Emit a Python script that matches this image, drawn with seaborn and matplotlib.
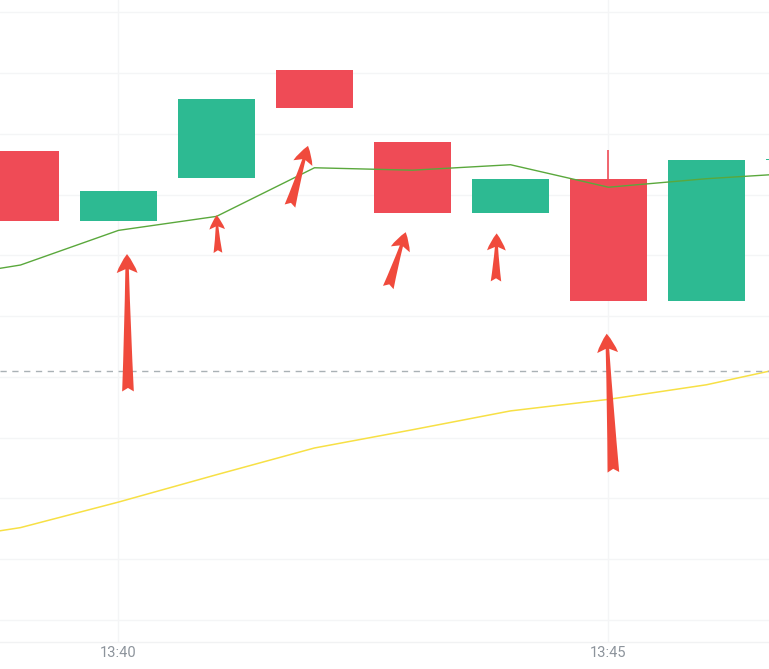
import numpy as np
import pandas as pd
import matplotlib.pyplot as plt
import seaborn as sns

# minute bars (13:38 candle is off screen, only the averages reach it)
times = ["13:38", "13:39", "13:40", "13:41", "13:42", "13:43", "13:44", "13:45", "13:46", "13:47"]
opens = [np.nan, 1077.2, 1065.7, 1072.7, 1090.5, 1078.6, 1066.9, 1072.6, 1052.5, 1075.6]
closes = [np.nan, 1065.7, 1070.6, 1085.7, 1084.3, 1066.9, 1072.6, 1052.5, 1075.6, 1075.6]
highs = [np.nan, 1077.2, 1070.6, 1085.7, 1090.5, 1078.6, 1072.6, 1077.3, 1075.6, 1075.6]
lows = [np.nan, 1065.7, 1065.7, 1072.7, 1084.3, 1066.9, 1066.9, 1052.5, 1052.5, 1075.6]
ma_fast = [1055.8, 1058.4, 1064.1, 1066.4, 1074.4, 1074.0, 1074.9, 1071.2, 1072.6, 1073.6]
ma_slow = [1012.7, 1015.2, 1019.4, 1023.9, 1028.3, 1031.3, 1034.4, 1036.3, 1038.7, 1042.2]
ref_level = 1041.0
tick_labels = ["13:40", "13:45"]

# hand drawn arrows (tip / tail in data units)
arrow_tip_x = [2.087, 3.002, 3.934, 4.931, 5.859, 6.982]
arrow_tip_y = [1060.2, 1066.6, 1078.0, 1063.8, 1063.6, 1047.1]
arrow_tail_x = [2.097, 3.015, 3.75, 4.753, 5.852, 7.05]
arrow_tail_y = [1037.6, 1060.4, 1068.1, 1054.7, 1055.7, 1024.3]
arrow_size = [1.0, 0.75, 0.95, 0.95, 0.9, 1.0]

UP = "#2dba92"
DOWN = "#ef4b56"

sns.set_style("white")
plt.rcParams["font.family"] = ["Roboto", "DejaVu Sans"]

df = pd.DataFrame({"time": times, "open": opens, "close": closes,
                   "high": highs, "low": lows, "ma_fast": ma_fast, "ma_slow": ma_slow})
df["x"] = np.arange(len(df))
bars = df.dropna(subset=["open"])
colors = [UP if c >= o else DOWN for o, c in zip(bars["open"], bars["close"])]
body_low = np.minimum(bars["open"], bars["close"])
body_h = np.maximum(np.abs(bars["close"] - bars["open"]), 0.3)

fig = plt.figure(figsize=(7.69, 6.69), dpi=100)
ax = fig.add_axes([0, 0.0408, 1, 0.9592])

ax.vlines(bars["x"], bars["low"], bars["high"], colors=colors, linewidth=1.2, zorder=2)
ax.bar(bars["x"], body_h, bottom=body_low, width=0.786, color=colors, linewidth=0, zorder=3)

sns.lineplot(data=df, x="x", y="ma_fast", ax=ax, color="#5aa83c", linewidth=1.0, zorder=4)
sns.lineplot(data=df, x="x", y="ma_slow", ax=ax, color="#f7e045", linewidth=1.1, zorder=4)
ax.axhline(ref_level, color="#a9b1b5", linewidth=1.0, linestyle=(0, (4.5, 4)), zorder=4)

for tx, ty, sx, sy, s in zip(arrow_tip_x, arrow_tip_y, arrow_tail_x, arrow_tail_y, arrow_size):
    ax.annotate("", xy=(tx, ty), xytext=(sx, sy),
                arrowprops=dict(arrowstyle="fancy,head_length=0.68,head_width=0.75,tail_width=0.42",
                                color="#f04a3c", mutation_scale=20 * s,
                                shrinkA=0, shrinkB=0, linewidth=0),
                zorder=5)

ax.set_xlim(0.791, 8.638)
ax.set_ylim(996.43, 1102.0)
ax.set_xticks([2, 7])
ax.set_xticklabels(tick_labels)
ax.set_yticks(np.arange(1000, 1101, 10))
ax.tick_params(axis="y", left=False, labelleft=False)
ax.tick_params(axis="x", length=0, pad=3.0, labelsize=10.5, labelcolor="#8d949c")
ax.grid(True, color="#f4f5f6", linewidth=1.0, zorder=0)
ax.set_axisbelow(True)
ax.set_xlabel("")
ax.set_ylabel("")
for side in ["top", "left", "right"]:
    ax.spines[side].set_visible(False)
ax.spines["bottom"].set_color("#f1f2f3")
ax.spines["bottom"].set_linewidth(1.0)

fig.savefig("out.png", dpi=100)
plt.close(fig)
